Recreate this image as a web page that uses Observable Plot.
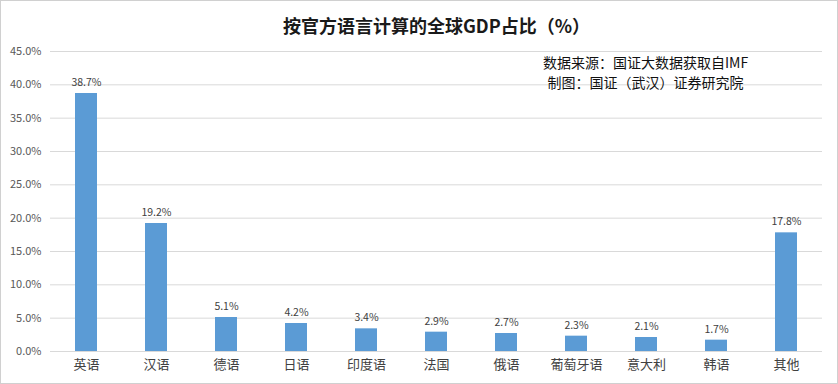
<!DOCTYPE html>
<html><head><meta charset="utf-8">
<script src="https://cdn.jsdelivr.net/npm/d3@7"></script>
<script src="https://cdn.jsdelivr.net/npm/@observablehq/plot@0.6"></script>
<style>
body{margin:0;background:#fff;}
#chart svg{outline:1px solid #d0d0d0;outline-offset:-1px;display:block;}
</style>
</head><body><div id="chart"></div>
<script>
const languages = ["英语","汉语","德语","日语","印度语","法国","俄语","葡萄牙语","意大利","韩语","其他"];
const shares = [38.7,19.2,5.1,4.2,3.4,2.9,2.7,2.3,2.1,1.7,17.8];
const yTicks = [0,5,10,15,20,25,30,35,40,45];
const title = "按官方语言计算的全球GDP占比（%）";
const notes = ["数据来源：国证大数据获取自IMF","制图：国证（武汉）证券研究院"];

const data = languages.map((l,i)=>({lang:l, v:shares[i]}));
const font = "'Noto Sans CJK SC', 'Microsoft YaHei', sans-serif";

const chart = Plot.plot({
  width: 838, height: 384,
  marginTop: 51, marginBottom: 33, marginLeft: 50, marginRight: 16,
  style: {fontFamily: font, background: "#fff"},
  x: {domain: languages, paddingInner: 0.69, paddingOuter: 0.345, align: 0.5, label: null, tickSize: 0, tickPadding: 8},
  y: {domain: [0,45], ticks: yTicks, label: null, tickSize: 0, tickPadding: 8, tickFormat: d => d.toFixed(1) + "%"},
  marks: [
    Plot.ruleY(yTicks, {stroke: "#d9d9d9", strokeWidth: 1}),
    Plot.barY(data, {x: "lang", y: "v", fill: "#5b9bd5"}),
    Plot.text(data, {x: "lang", y: "v", text: d => d.v.toFixed(1) + "%", dy: -11, fill: "#404040", fontSize: 10.5}),
    Plot.axisX({tickSize: 0, tickPadding: 8, fontSize: 13, color: "#404040"}),
    Plot.axisY({ticks: yTicks, tickSize: 0, tickPadding: 9, fontSize: 11, color: "#595959", tickFormat: d => d.toFixed(1) + "%"}),
    Plot.text([title], {frameAnchor: "top", dy: -31, fontSize: 18, fontWeight: "bold", fill: "#1a1a1a"}),
    Plot.text([notes[0]], {frameAnchor: "top-right", dx: -177, dy: 7, textAnchor: "middle", fontSize: 14, fill: "#111"}),
    Plot.text([notes[1]], {frameAnchor: "top-right", dx: -177, dy: 27, textAnchor: "middle", fontSize: 14, fill: "#111"})
  ]
});
document.getElementById("chart").append(chart);
</script></body></html>
